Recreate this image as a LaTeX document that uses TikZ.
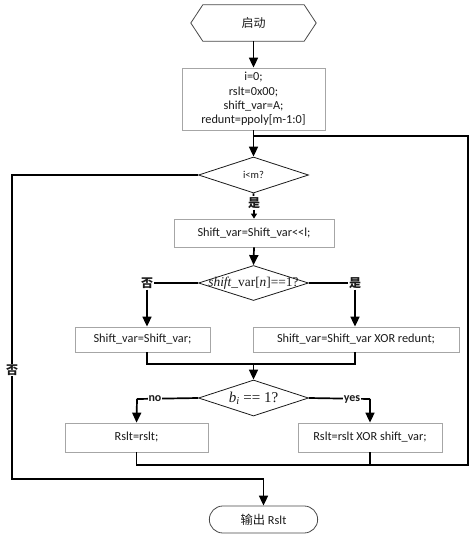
\documentclass[tikz,border=0pt]{standalone}
\usepackage{fontspec}
\setmainfont{Carlito}
\newfontfamily\cjk{Noto Sans CJK SC}
\newfontfamily\tnr{Liberation Serif}
\usetikzlibrary{arrows.meta,shapes.geometric,shapes.misc,calc}
\definecolor{boxgray}{HTML}{A6A6A6}
\definecolor{ink}{HTML}{1A1A1A}
\tikzset{
  procbox/.style={draw=boxgray, line width=0.8pt, rectangle, inner sep=1pt, align=center,
    font=\fontsize{12.3}{14.3}\selectfont, text=ink},
  decide/.style={draw=ink, line width=0.8pt, diamond, inner sep=0pt, minimum width=110pt, minimum height=36pt},
  conn/.style={draw=black, line width=1.7pt, -{Triangle[length=10pt,width=9pt]}},
  plain/.style={draw=black, line width=1.7pt},
  smalltip/.style={draw=black, line width=1.7pt, -{Triangle[length=5pt,width=6pt]}},
  cjklabel/.style={font=\cjk\bfseries\fontsize{12}{13}\selectfont, fill=white, inner sep=1pt, text=ink},
  enlabel/.style={font=\bfseries\fontsize{12}{13}\selectfont, fill=white, inner sep=1pt, text=ink},
}
\begin{document}
\begin{tikzpicture}[x=1pt,y=-1pt]
\useasboundingbox (0,0) rectangle (474,539);
% start hexagon
\node[minimum width=125pt, minimum height=36pt, inner sep=0pt, font=\cjk\fontsize{12}{13}\selectfont, text=ink] (start) at (253.5,23) {启动};
\draw[draw=ink!80, line width=0.8pt] (start.west) -- ($(start.north west)+(12pt,0pt)$) -- ($(start.north east)+(-12pt,0pt)$) -- (start.east) -- ($(start.south east)+(-12pt,0pt)$) -- ($(start.south west)+(12pt,0pt)$) -- cycle;
% init
\node[procbox, minimum width=143pt, minimum height=62pt] (init) at (253.5,99) {i=0;\\rslt=0x00;\\shift\_var=A;\\redunt=ppoly[m-1:0]};
% decision 1
\node[decide, label={[font=\fontsize{10.5}{12}\selectfont, text=ink]center:i<m?}] (d1) at (253.5,175) {};
% shift box
\node[procbox, minimum width=160pt, minimum height=28pt] (s1) at (254,233) {Shift\_var=Shift\_var<\kern0pt<l;};
% decision 2
\node[decide, minimum height=35pt, label={[font=\tnr\fontsize{13.4}{14}\selectfont, text=ink]center:{\itshape shift}\_var[{\itshape n}]==1?}] (d2) at (253.5,283) {};
\node[cjklabel] (no1) at (147,283) {否};
\node[cjklabel] (yes1) at (355,283) {是};
\node[procbox, minimum width=135pt, minimum height=25pt] (a1) at (142.5,339.5) {Shift\_var=Shift\_var;};
\node[procbox, minimum width=206pt, minimum height=25pt] (a2) at (356,339.5) {Shift\_var=Shift\_var XOR redunt;};
% decision 3
\node[decide, label={[font=\tnr\fontsize{15}{15}\selectfont, text=ink]center:{\itshape b}\textsubscript{\itshape i}\ ==\ 1?}] (d3) at (253.5,398) {};
\node[procbox, minimum width=143pt, minimum height=29pt] (r1) at (136.5,437.5) {Rslt=rslt;};
\node[procbox, minimum width=144pt, minimum height=29pt] (r2) at (370,437.5) {Rslt=rslt XOR shift\_var;};
% terminal
\node[draw=ink!80, line width=0.8pt, rounded rectangle, minimum width=115pt, minimum height=27pt, font=\fontsize{12.3}{13}\selectfont, text=ink] (term) at (263.5,519.5) {{\cjk 输出} Rslt};

% coordinates
\coordinate (loopJ) at (253.5,136);
\coordinate (loopT) at (468,136);
\coordinate (loopB) at (468,465);
\coordinate (j2) at (253.5,364);
\coordinate (noC) at (137,399);
\coordinate (yesC) at (370,399);
\coordinate (L1) at (12,175);
\coordinate (L2) at (12,479);
\coordinate (L3) at (263.5,479);

% connectors
\draw[conn] (start.south) -- (init.north);
\draw[conn] (init.south) -- (d1.north);
\draw[plain] (loopJ) -- (loopT) -- (loopB) -- (r1.south |- loopB) -- (r1.south);
\draw[plain] (r2.south) -- (r2.south |- loopB);
% i<m? no
\draw[plain] (d1.west) -- (L1) -- (L2) -- (L3);
\draw[conn] (L3) -- (term.north);
\node[cjklabel] (no0) at (12,370) {否};
% i<m? yes
\draw[plain] (d1.south) -- ($(d1.south)!0.5!(s1.north)$);
\node[cjklabel] (yes0) at (254,203) {是};
\draw[smalltip] (yes0.south) -- (s1.north);
\draw[conn] (s1.south) -- (d2.north);
% decision 2 branches
\draw[plain] (d2.west) -- (no1.east);
\draw[plain] (d2.east) -- (yes1.west);
\draw[conn] (no1.south) -- (no1.south |- a1.north);
\draw[conn] (yes1.south) -- (yes1.south |- a2.north);
\draw[plain] (no1.south |- a1.south) -- (no1.south |- j2) -- (yes1.south |- j2) -- (yes1.south |- a2.south);
\draw[conn] (j2) -- (d3.north);
% decision 3 branches
\draw[plain] (d3.west) -- (noC);
\draw[plain] (d3.east) -- (yesC);
\node[enlabel] (nol) at (155,399) {no};
\node[enlabel] (yesl) at (352,399) {yes};
\draw[conn] (noC) -- (r1.north);
\draw[conn] (yesC) -- (r2.north);
\end{tikzpicture}
\end{document}
